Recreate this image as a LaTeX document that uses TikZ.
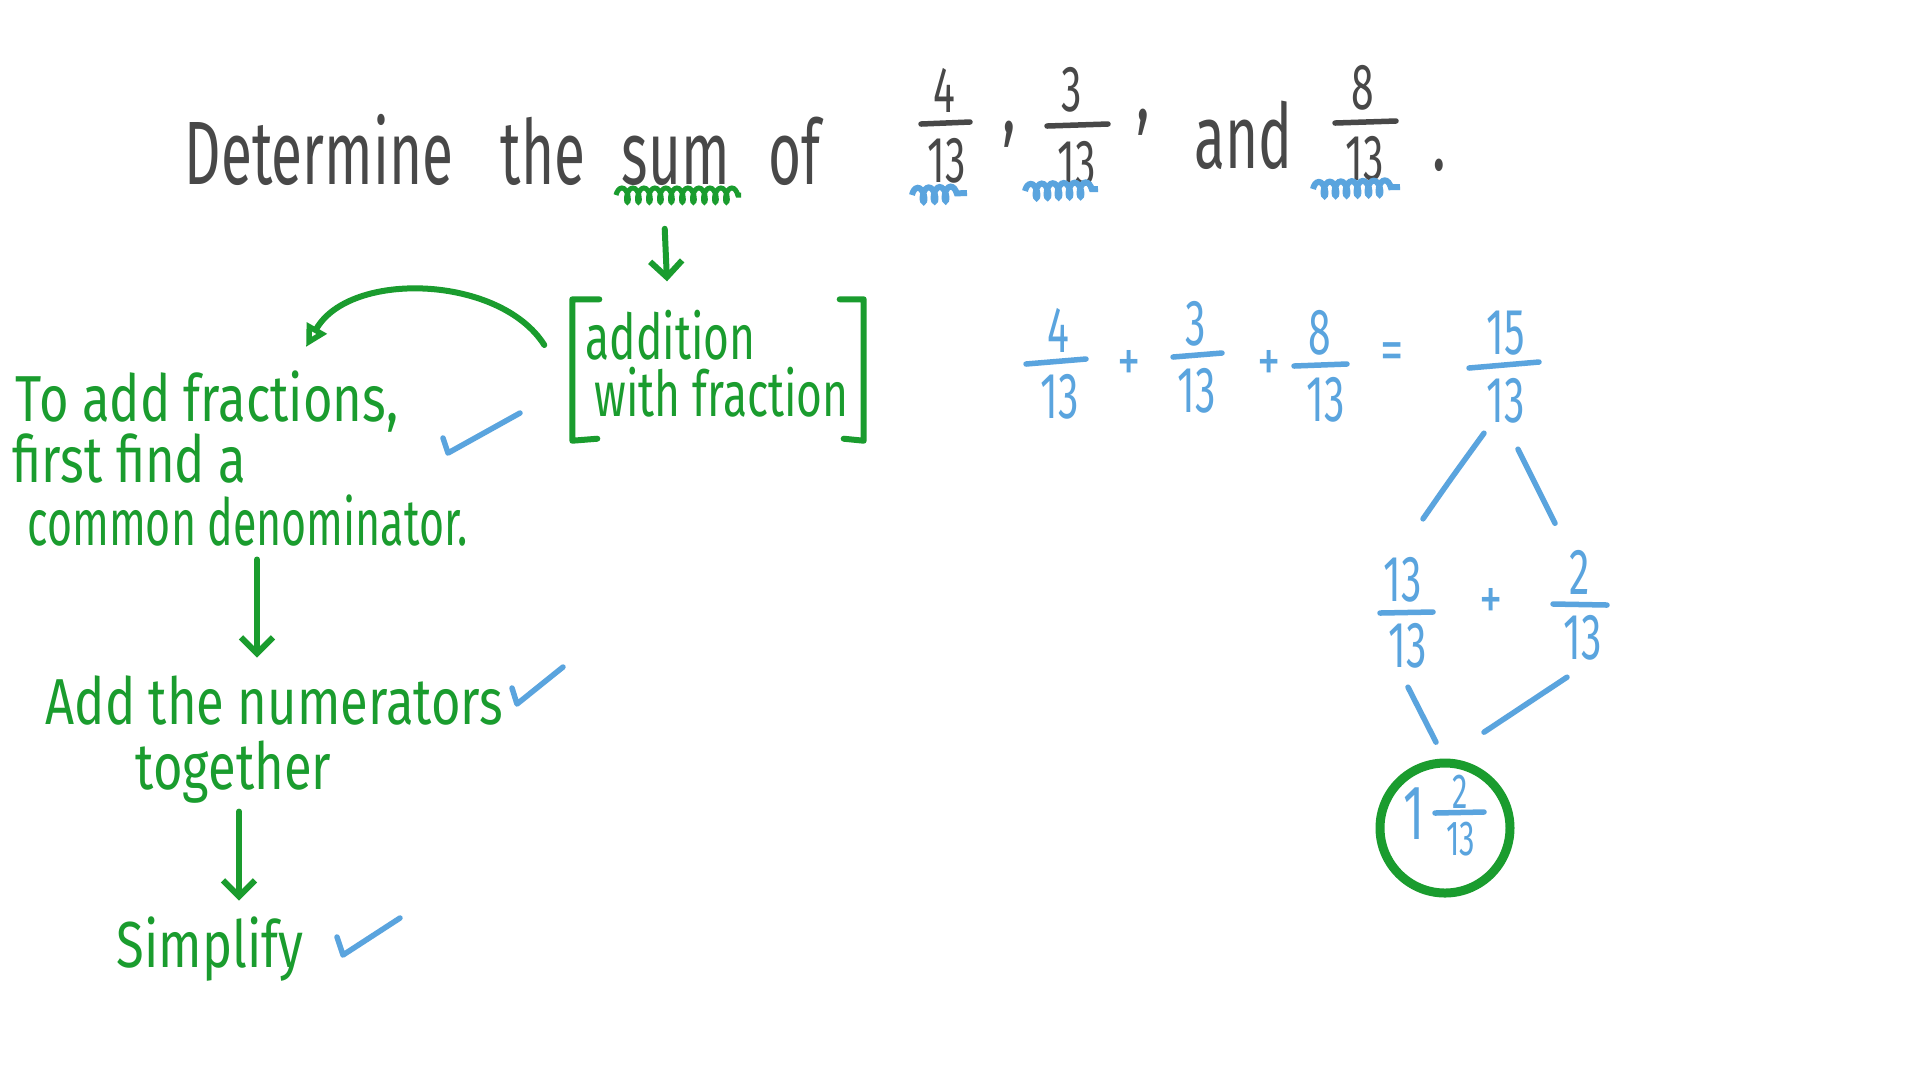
\documentclass[tikz,border=0pt]{standalone}
\usepackage{fontspec}
\newfontfamily\hand[FakeStretch=0.63]{Fira Sans}
\newfontfamily\handg[FakeStretch=0.78]{Fira Sans}
\newfontfamily\handc[FakeStretch=0.66]{Fira Sans}
\newfontfamily\handb[FakeStretch=0.70]{Fira Sans}
\usetikzlibrary{arrows.meta,decorations.pathmorphing,calc}
\definecolor{ink}{HTML}{484848}
\definecolor{grn}{HTML}{1A9C2E}
\definecolor{blu}{HTML}{5AA4DE}
\tikzset{
 ttl/.style={text=ink, font=\hand\fontsize{25.6}{30}\selectfont, anchor=base west, inner sep=0},
 gtx/.style={text=grn, font=\handg\fontsize{18.5}{22}\selectfont, anchor=base west, inner sep=0},
 gtxc/.style={text=grn, font=\handc\fontsize{18.5}{22}\selectfont, anchor=base west, inner sep=0},
 gtxb/.style={text=grn, font=\handb\fontsize{18}{22}\selectfont, anchor=base west, inner sep=0},
 tfr/.style={text=ink, font=\hand\fontsize{18.5}{22}\selectfont, inner sep=0},
 bfr/.style={text=blu, font=\hand\fontsize{18.5}{22}\selectfont, inner sep=0},
 bop/.style={text=blu, font=\handg\fontsize{17}{20}\selectfont, inner sep=0},
 sfr/.style={text=blu, font=\hand\fontsize{14}{17}\selectfont, inner sep=0},
 fbar/.style={line width=0.55mm, line cap=round},
 gline/.style={draw=grn, line width=0.6mm, line cap=round, line join=round},
 bline/.style={draw=blu, line width=0.55mm, line cap=round, line join=round},
 harrow/.style={gline, -{Straight Barb[length=1.6mm,width=3.2mm]}},
 squig/.style={decorate, decoration={coil, aspect=0.45, segment length=1.1mm, amplitude=0.7mm}, line width=0.5mm},
}
\begin{document}
\begin{tikzpicture}[x=0.1mm, y=-0.1mm]
\fill[white] (0,0) rectangle (1920,1080);
\useasboundingbox (0,0) rectangle (1920,1080);

% ---- title ----
\node[ttl] (w1) at (184,184) {Determine};
\node[ttl] (w2) at (500,184) {the};
\node[ttl] (wsum) at (621,184) {sum};
\node[ttl] (w4) at (768,184) {of};
\node[tfr] (t1n) at (944,90) {4};
\node[tfr] (t1d) at (947,161) {13};
\draw[fbar,ink] (921,124) -- (970,122);
\node[ttl] (c1) at (1002,132) {,};
\node[tfr] (t2n) at (1072,90) {3};
\node[tfr] (t2d) at (1077,164) {13};
\draw[fbar,ink] (1047,126) -- (1108,124);
\node[ttl] (c2) at (1136,120) {,};
\node[ttl] (w5) at (1194,168) {and};
\node[tfr] (t3n) at (1363,88) {8};
\node[tfr] (t3d) at (1365,159) {13};
\draw[fbar,ink] (1335,123) -- (1396,121);
\node[ttl] (dot) at (1432,170) {.};

% squiggles
\draw[squig, grn] (616,195) -- (741,195);
\draw[squig, blu, line width=0.6mm] (912,195) -- (967,193);
\draw[squig, blu, line width=0.6mm] (1025,191) -- (1098,189);
\draw[squig, blu, line width=0.6mm] (1313,189) -- (1400,187);

% ---- bracket box ----
\node[minimum width=29mm, minimum height=14mm, inner sep=0] (box) at (718,370) {};
\draw[gline] ($(box.north west)+(27,0)$) -- (box.north west) -- (box.south west) -- ($(box.south west)+(25,-2)$);
\draw[gline] ($(box.north east)+(-24,0)$) -- (box.north east) -- (box.south east) -- ($(box.south east)+(-20,-2)$);
\node[gtxb] (a1) at (585,359) {addition};
\node[gtxb] (a2) at (594,416) {with fraction};

\draw[harrow] ($(wsum.south)+(-11,43)$) -- ($(box.north)+(-51,-18)$);

% ---- left steps ----
\node[gtx] (l1) at (15,421) {To add fractions,};
\node[gtx] (l2) at (12,482) {first find a};
\node[gtxc] (l3) at (27,545) {common denominator.};
\node[gtx] (l4) at (45,724) {Add the numerators};
\node[gtx] (l5) at (135,789) {together};
\node[gtx] (l6) at (116,967) {Simplify};

\coordinate (cs) at ($(box.west)+(-28,-25)$);
\coordinate (ce) at (306,347);
\draw[gline, -{Triangle[open,length=2.2mm,width=2.2mm]}] (cs) .. controls (500,275) and (350,270) .. (ce);

\draw[harrow] ($(l3.south west)+(230,13)$) -- ($(l4.north west)+(212,-17)$);
\draw[harrow] ($(l5.south west)+(104,8)$) -- ($(l6.north west)+(123,-15)$);

% checks
\draw[bline] (443,438) -- (448,453) -- (520,413);
\draw[bline] (512,688) -- (517,704) -- (563,667);
\draw[bline] (337,937) -- (343,955) -- (400,918);

% ---- right computation ----
\node[bfr] (f1n) at (1058,330) {4};
\node[bfr] (f1d) at (1060,397) {13};
\draw[fbar,blu] (1026,364) -- (1086,359);
\node[bop] (p1) at (1129,366) {+};
\node[bfr] (f2n) at (1196,324) {3};
\node[bfr] (f2d) at (1197,391) {13};
\draw[fbar,blu] (1173,357) -- (1222,353);
\node[bop] (p2) at (1269,366) {+};
\node[bfr] (f3n) at (1320,333) {8};
\node[bfr] (f3d) at (1326,400) {13};
\draw[fbar,blu] (1294,366) -- (1347,364);
\node[bop] (eq) at (1392,357) {=};
\node[bfr] (f4n) at (1506,333) {15};
\node[bfr] (f4d) at (1506,401) {13};
\draw[fbar,blu] (1469,368) -- (1539,362);

\node[bfr] (f5n) at (1403,580) {13};
\node[bfr] (f5d) at (1408,646) {13};
\draw[fbar,blu] (1380,613) -- (1433,612);
\node[bop] (p3) at (1491,604) {+};
\node[bfr] (f6n) at (1580,572) {2};
\node[bfr] (f6d) at (1583,638) {13};
\draw[fbar,blu] (1553,604) -- (1607,605);

\draw[bline] ($(f4d.south)+(-22,9)$) .. controls (1450,480) .. ($(f5n.north)+(20,-38)$);
\draw[bline] ($(f4d.south)+(12,25)$) -- ($(f6n.north)+(-25,-26)$);
\draw[bline] ($(f5d.south)+(0,18)$) -- ($(f5d.south)+(28,73)$);
\draw[bline] ($(f6d.south)+(-16,16)$) -- ($(f6d.south)+(-99,71)$);

\node[circle, draw=grn, line width=0.9mm, minimum size=13mm, inner sep=0] (ans) at (1445,828) {};
\node[text=blu, font=\hand\fontsize{22}{26}\selectfont, inner sep=0] (one) at (1414,814) {1};
\node[sfr] (f7n) at (1460,792) {2};
\node[sfr] (f7d) at (1461,839) {13};
\draw[fbar,blu] (1435,813) -- (1484,812);
\end{tikzpicture}
\end{document}
